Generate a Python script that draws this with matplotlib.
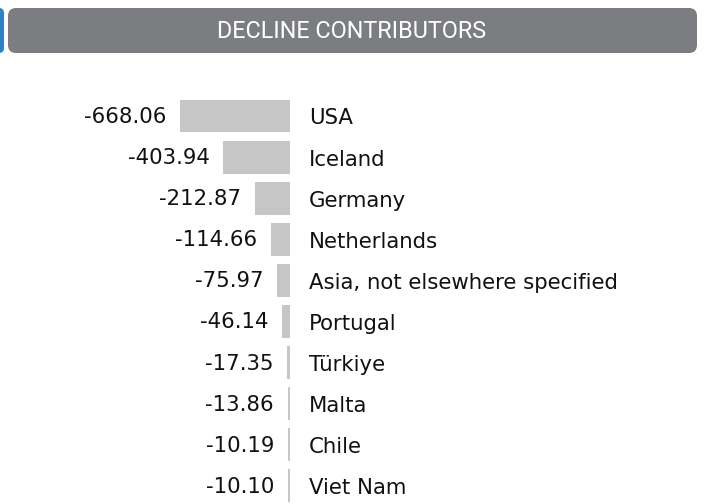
import matplotlib
matplotlib.use("Agg")
import matplotlib.pyplot as plt
from matplotlib.patches import FancyBboxPatch

countries = ["USA", "Iceland", "Germany", "Netherlands", "Asia, not elsewhere specified",
             "Portugal", "Türkiye", "Malta", "Chile", "Viet Nam"]
values = [-668.06, -403.94, -212.87, -114.66, -75.97, -46.14, -17.35, -13.86, -10.19, -10.10]
title = "DECLINE CONTRIBUTORS"

W, H = 705, 504
fig = plt.figure(figsize=(W / 100, H / 100), dpi=100)

# header strip
hdr = fig.add_axes([0, 0, 1, 1])
hdr.set_xlim(0, W)
hdr.set_ylim(H, 0)
hdr.axis("off")
hdr.add_patch(FancyBboxPatch((-6, 8), 10, 45, boxstyle="round,pad=0,rounding_size=5",
                             fc="#2f80c4", ec="none"))
hdr.add_patch(FancyBboxPatch((8, 8), 689, 45, boxstyle="round,pad=0,rounding_size=8",
                             fc="#7b7d80", ec="none"))
hdr.text(352, 31, title, color="white", fontsize=16.8, family="Roboto",
         ha="center", va="center")

# bars, right aligned at x=290 px
row = 41.1
px_per_unit = 110 / 668.06
left_px, right_px = 0, 290
top_px = 116 - row / 2
ax = fig.add_axes([left_px / W, 0, (right_px - left_px) / W, (H - top_px) / H])
ax.set_xlim(-(right_px - left_px) / px_per_unit, 0)
ax.set_ylim(-0.5 + (H - top_px) / row, -0.5)
ax.axis("off")

ypos = list(range(len(values)))
ax.barh(ypos, values, height=0.8, color="#c6c6c6")

for y, v, name in zip(ypos, values, countries):
    ax.annotate(f"{v:.2f}", (v, y), xytext=(-14, -1), textcoords="offset pixels",
                ha="right", va="center", fontsize=15.3, color="#111111")
    ax.annotate(name, (0, y), xytext=(19, -2.5), textcoords="offset pixels",
                ha="left", va="center", fontsize=15.3, color="#111111",
                annotation_clip=False)

fig.savefig("out.png", dpi=100)
